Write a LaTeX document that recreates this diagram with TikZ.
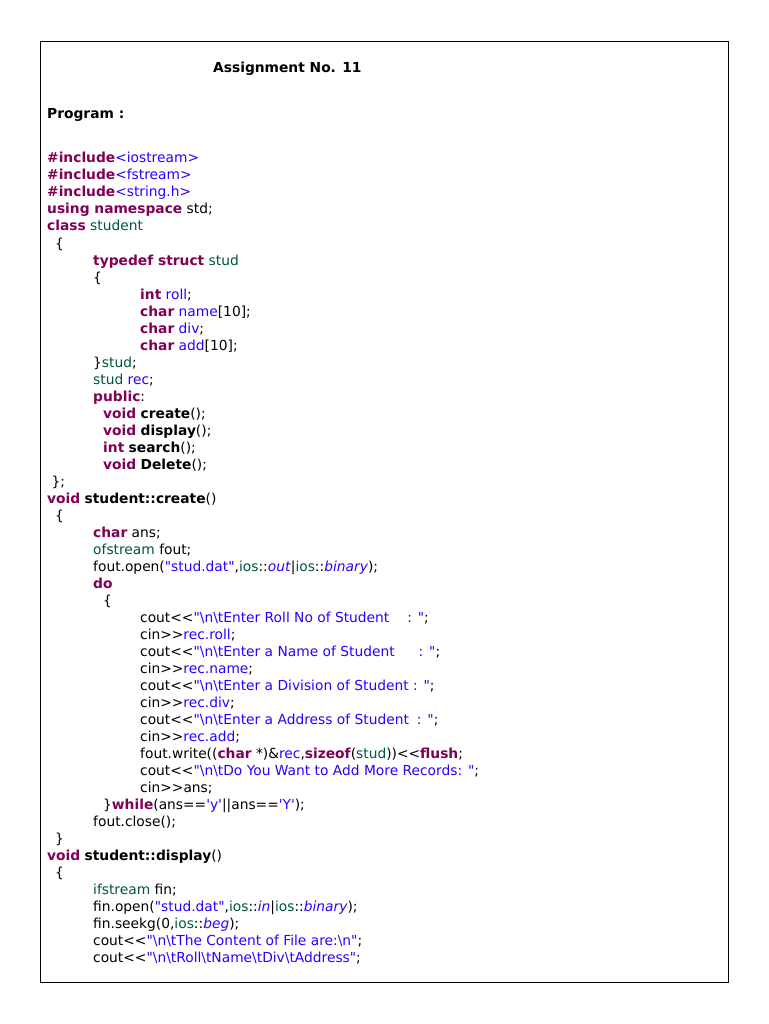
\documentclass[tikz,border=0pt]{standalone}
\usepackage{fontspec}
\setmainfont{DejaVu Sans}[Ligatures=TeXOff]
\definecolor{kwc}{HTML}{800055}
\definecolor{tyc}{HTML}{00553F}
\definecolor{stc}{HTML}{2A00FF}
\newcommand{\kw}[1]{\textcolor{kwc}{\textbf{#1}}}
\newcommand{\ty}[1]{\textcolor{tyc}{#1}}
\newcommand{\sq}[1]{\textcolor{stc}{#1}}
\newcommand{\si}[1]{\textcolor{stc}{\textit{#1}}}
\newcommand{\bs}{\textbackslash}
\begin{document}
\begin{tikzpicture}[x=1pt,y=1pt,
  ln/.style={anchor=base west,inner sep=0pt,font=\fontsize{13.8}{17}\selectfont}]
\useasboundingbox (0,0) rectangle (768,-1024);
\draw[line width=1pt] (40,-42) rectangle (728,-982);
\node[ln] (t) at (213,-73) {\textbf{Assignment No. 11}};
\node[ln] (p) at (47,-119) {\textbf{Program :}};
\newcommand{\codeln}[3]{\node[ln] (l#1) at (#2,{-163-17*#1}) {#3};}
\codeln{0}{47}{\kw{\#include}\sq{<iostream>}}
\codeln{1}{47}{\kw{\#include}\sq{<fstream>}}
\codeln{2}{47}{\kw{\#include}\sq{<string.h>}}
\codeln{3}{47}{\kw{using namespace} std;}
\codeln{4}{47}{\kw{class} \ty{student}}
\codeln{5}{55}{\{}
\codeln{6}{93}{\kw{typedef struct} \ty{stud}}
\codeln{7}{93}{\{}
\codeln{8}{140}{\kw{int} \sq{roll};}
\codeln{9}{140}{\kw{char} \sq{name}[10];}
\codeln{10}{140}{\kw{char} \sq{div};}
\codeln{11}{140}{\kw{char} \sq{add}[10];}
\codeln{12}{93}{\}\ty{stud};}
\codeln{13}{93}{\ty{stud} \sq{rec};}
\codeln{14}{93}{\kw{public}:}
\codeln{15}{103}{\kw{void} \textbf{create}();}
\codeln{16}{103}{\kw{void} \textbf{display}();}
\codeln{17}{103}{\kw{int} \textbf{search}();}
\codeln{18}{103}{\kw{void} \textbf{Delete}();}
\codeln{19}{47}{\ \};}
\codeln{20}{47}{\kw{void} \textbf{student::create}()}
\codeln{21}{55}{\{}
\codeln{22}{93}{\kw{char} ans;}
\codeln{23}{93}{\ty{ofstream} fout;}
\codeln{24}{93}{fout.open(\sq{"stud.dat"},\ty{ios}::\si{out}|\ty{ios}::\si{binary});}
\codeln{25}{93}{\kw{do}}
\codeln{26}{103}{\{}
\codeln{27}{140}{cout<<\sq{"\bs n\bs tEnter Roll No of Student\hspace{18pt}: "};}
\codeln{28}{140}{cin>>\sq{rec.roll};}
\codeln{29}{140}{cout<<\sq{"\bs n\bs tEnter a Name of Student\hspace{24pt}: "};}
\codeln{30}{140}{cin>>\sq{rec.name};}
\codeln{31}{140}{cout<<\sq{"\bs n\bs tEnter a Division of Student : "};}
\codeln{32}{140}{cin>>\sq{rec.div};}
\codeln{33}{140}{cout<<\sq{"\bs n\bs tEnter a Address of Student\hspace{8pt}: "};}
\codeln{34}{140}{cin>>\sq{rec.add};}
\codeln{35}{140}{fout.write((\kw{char} *)\&\sq{rec},\kw{sizeof}(\ty{stud}))<<\kw{flush};}
\codeln{36}{140}{cout<<\sq{"\bs n\bs tDo You Want to Add More Records: "};}
\codeln{37}{140}{cin>>ans;}
\codeln{38}{103}{\}\kw{while}(ans==\sq{'y'}||ans==\sq{'Y'});}
\codeln{39}{93}{fout.close();}
\codeln{40}{55}{\}}
\codeln{41}{47}{\kw{void} \textbf{student::display}()}
\codeln{42}{55}{\{}
\codeln{43}{93}{\ty{ifstream} fin;}
\codeln{44}{93}{fin.open(\sq{"stud.dat"},\ty{ios}::\si{in}|\ty{ios}::\si{binary});}
\codeln{45}{93}{fin.seekg(0,\ty{ios}::\si{beg});}
\codeln{46}{93}{cout<<\sq{"\bs n\bs tThe Content of File are:\bs n"};}
\codeln{47}{93}{cout<<\sq{"\bs n\bs tRoll\bs tName\bs tDiv\bs tAddress"};}
\end{tikzpicture}
\end{document}
